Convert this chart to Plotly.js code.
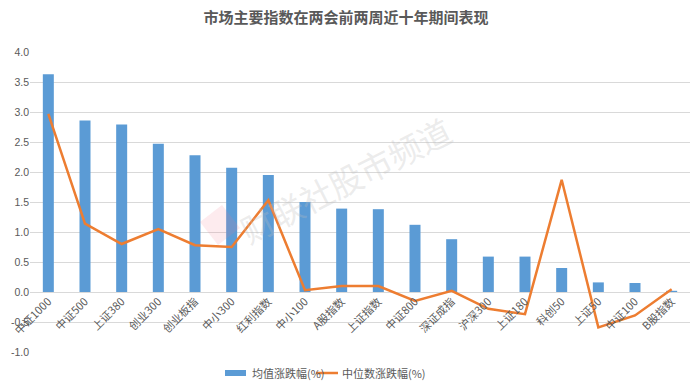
<!DOCTYPE html>
<html>
<head>
<meta charset="utf-8">
<script src="https://cdn.plot.ly/plotly-3.0.1.min.js"></script>
<style>html,body{margin:0;padding:0;background:#fff;}#chart{width:692px;height:386px;}</style>
</head>
<body>
<div id="chart"></div>
<script>
var categories = ["中证1000","中证500","上证380","创业300","创业板指","中小300","红利指数","中小100","A股指数","上证指数","中证800","深证成指","沪深300","上证180","科创50","上证50","中证100","B股指数"];
var meanChange = [3.63, 2.86, 2.79, 2.47, 2.28, 2.07, 1.95, 1.50, 1.39, 1.38, 1.12, 0.88, 0.59, 0.59, 0.40, 0.16, 0.15, 0.02];
var medianChange = [2.97, 1.14, 0.80, 1.05, 0.78, 0.75, 1.53, 0.03, 0.10, 0.10, -0.15, 0.02, -0.28, -0.37, 1.87, -0.59, -0.39, 0.045];
var yTicks = [-1.0, -0.5, 0.0, 0.5, 1.0, 1.5, 2.0, 2.5, 3.0, 3.5, 4.0];
var seriesNames = ["均值涨跌幅(%)", "中位数涨跌幅(%)"];
var titleText = "市场主要指数在两会前两周近十年期间表现";
var watermark = "财联社股市频道";

var FONT = "Liberation Sans, Noto Sans CJK SC, sans-serif";
var CJK = "Noto Sans CJK SC, sans-serif";
var BLUE = "#5B9BD5", ORANGE = "#ED7D31";
// pixel -> paper helpers (plot area: x 30..690, y 52..352)
function px(x){return (x-30)/660;}
function py(y){return (352-y)/300;}

var data = [
  {type:"bar", x:categories, y:meanChange, name:seriesNames[0],
   marker:{color:BLUE}, hoverinfo:"skip", showlegend:false},
  {type:"scatter", mode:"lines", x:categories, y:medianChange, name:seriesNames[1],
   line:{color:ORANGE, width:2.5}, hoverinfo:"skip", showlegend:false}
];
var layout = {
  width:692, height:386,
  margin:{l:30, r:2, t:52, b:34},
  paper_bgcolor:"#fff", plot_bgcolor:"#fff",
  font:{family:FONT, color:"#595959", size:10},
  title:{text:"<b>"+titleText+"</b>", x:0.5, xanchor:"center", y:1-18/386, yanchor:"middle",
         font:{family:CJK, size:15, color:"#595959"}},
  bargap:0.7,
  showlegend:false,
  xaxis:{type:"category", anchor:"free", position:0.2, tickangle:-45,
         showgrid:false, showline:false, ticks:"", zeroline:false,
         tickfont:{family:CJK, size:11, color:"#595959"}},
  yaxis:{range:[-1,4], tickvals:yTicks, ticktext:yTicks.map(function(v){return v.toFixed(1);}),
         showgrid:true, gridcolor:"#d9d9d9", gridwidth:1, zeroline:true, zerolinecolor:"#d9d9d9",
         zerolinewidth:1, showline:false, ticks:"", fixedrange:true,
         tickfont:{family:FONT, size:10.5, color:"#595959"}},
  annotations:[
    {text:watermark, xref:"paper", yref:"paper", x:px(345), y:py(180),
     showarrow:false, textangle:-27, font:{family:CJK, size:33, color:"rgba(190,190,190,0.3)"}},
    {text:seriesNames[0], xref:"paper", yref:"paper", x:px(250), y:py(373), xanchor:"left", yanchor:"middle",
     showarrow:false, font:{family:CJK, size:11, color:"#595959"}},
    {text:seriesNames[1], xref:"paper", yref:"paper", x:px(340), y:py(373), xanchor:"left", yanchor:"middle",
     showarrow:false, font:{family:CJK, size:11, color:"#595959"}}
  ],
  shapes:[
    {type:"path", xref:"paper", yref:"paper", layer:"above",
     path:"M "+px(200)+" "+py(222)+" L "+px(222)+" "+py(205)+" L "+px(240)+" "+py(228)+" L "+px(218)+" "+py(245)+" Z",
     fillcolor:"rgba(240,120,140,0.15)", line:{width:0}},
    {type:"rect", xref:"paper", yref:"paper", x0:px(225), x1:px(246), y0:py(376), y1:py(370),
     fillcolor:BLUE, line:{width:0}},
    {type:"line", xref:"paper", yref:"paper", x0:px(316), x1:px(338), y0:py(373), y1:py(373),
     line:{color:ORANGE, width:2.5}}
  ]
};
Plotly.newPlot("chart", data, layout, {displayModeBar:false, staticPlot:true});
</script>
</body>
</html>
